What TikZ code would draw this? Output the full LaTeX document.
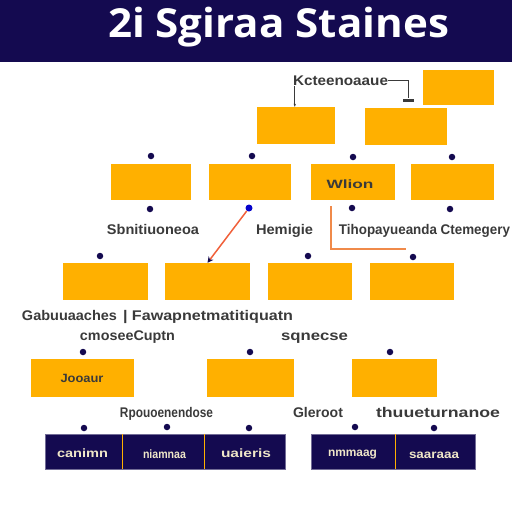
\documentclass[tikz,border=0pt]{standalone}
\usepackage{fontspec}
\setmainfont{Liberation Sans}
\newfontfamily\titlefont{Open Sans}
\usepackage{graphicx}
\usetikzlibrary{calc}
\usetikzlibrary{arrows.meta}
\definecolor{navy}{HTML}{140A50}
\definecolor{amber}{HTML}{FFB000}
\definecolor{labgray}{HTML}{3A3A3A}
\definecolor{cream}{HTML}{EFE6C8}
\definecolor{wirered}{HTML}{F0603A}
\definecolor{wireorange}{HTML}{F08A4A}
\tikzset{
  lbl/.style={inner sep=0pt,anchor=base,text=labgray,font=\bfseries\fontsize{14}{14}\selectfont},
  intxt/.style={inner sep=0pt,text=labgray,font=\bfseries\fontsize{12}{12}\selectfont},
  celltxt/.style={inner sep=0pt,text=cream,font=\bfseries\fontsize{12}{12}\selectfont}
}
\newcommand{\ybox}[5]{\node[draw=none,fill=amber,inner sep=0pt,minimum width=#4pt,minimum height=#5pt] (#1) at ( #2 , #3 ) {};}
\newcommand{\ncell}[5]{\node[draw=navy!60,fill=navy,inner sep=0pt,minimum width=#4pt,minimum height=#5pt] (#1) at ( #2 , #3 ) {};}
\newcommand{\ydot}[3]{\node[circle,fill=navy,inner sep=0pt,minimum size=6.5pt] (#1) at ( #2 , #3 ) {};}
\newcommand{\lbl}[5]{\node[lbl] (#1) at ( #2 , #3 ) {\resizebox{#4pt}{\height}{#5}};}

\begin{document}
\begin{tikzpicture}[x=1pt,y=-1pt]
        \useasboundingbox (0,0) rectangle (512,512);

        % banner
        \node[fill=navy,inner sep=0pt,minimum width=512pt,minimum height=62pt,anchor=north west] (banner) at (0,0) {};
        \node[inner sep=0pt,anchor=base,text=white] (title) at (278.5,37) {\resizebox{341pt}{\height}{\titlefont\bfseries\fontsize{40}{40}\selectfont 2i Sgiraa Staines}};

        % row 0
        \ybox{r0}{458.5}{87.5}{71}{35}
        \lbl{toptxt}{340.5}{85}{95}{Kcteenoaaue}

        % row 1
        \ybox{r1a}{296}{125.5}{78}{37}
        \ybox{r1b}{406}{126.5}{82}{37}
        \node[fill=labgray,inner sep=0pt,minimum width=11pt,minimum height=3pt] (rbar) at (408,100) {};
        \draw[labgray,thick] (toptxt.east) -| (rbar.north);
        \draw[labgray,thick,-{Stealth[length=3pt]}] ($(toptxt.south west)+(2,1)$) -- ($(toptxt.south west |- r1a.north)+(2,0)$);

        % dots above row 2
        \ydot{d1a}{151}{156}
        \ydot{d1b}{252}{156}
        \ydot{d1c}{353}{157}
        \ydot{d1d}{452}{157}

        % row 2
        \ybox{r2a}{151}{182}{80}{36}
        \ybox{r2b}{250}{182}{82}{36}
        \ybox{r2c}{353}{182}{84}{36}
        \ybox{r2d}{452.5}{182}{83}{36}
        \node[intxt] (r2ctxt) at (350,184) {\resizebox{47pt}{\height}{Wlion}};

        % dots below row 2
        \ydot{d2a}{150}{209}
        \node[circle,fill=blue!70!navy,inner sep=0pt,minimum size=7pt] (d2b) at (249,208) {};
        \ydot{d2c}{352}{208}
        \ydot{d2d}{450}{209}

        % labels row 2
        \lbl{l2a}{153}{234}{92}{Sbnitiuoneoa}
        \lbl{l2b}{284.5}{234}{57}{Hemigie}
        \lbl{l2c}{424.5}{234}{171}{Tihopayueanda Ctemegery}

        % row 3
        \ybox{r3a}{105.5}{281.5}{85}{37}
        \ybox{r3b}{207.5}{281.5}{85}{37}
        \ybox{r3c}{310}{281.5}{84}{37}
        \ybox{r3d}{412}{281.5}{84}{37}
        \ydot{d3a}{100}{256}
        \ydot{d3c}{308}{256}
        \ydot{d3d}{413}{257}

        % connectors
        \coordinate (oc) at (406,249);
        \draw[wirered,line width=1.5pt,-{Stealth[navy,length=6pt,width=6pt]}] (d2b) -- (r3b.north);
        \draw[wireorange,line width=1.5pt] ($(r2c.south west)+(20,6)$) |- (oc);

        % labels row 3
        \lbl{l3a}{69.5}{320}{95}{Gabuuaaches}
        \lbl{l3b}{208}{320}{170}{| Fawapnetmatitiquatn}
        \lbl{l3c}{127.5}{340}{95}{cmoseeCuptn}
        \lbl{l3d}{314.5}{340}{67}{sqnecse}

        % row 4
        \ydot{d4a}{83}{352}
        \ydot{d4b}{250}{352}
        \ydot{d4c}{390}{352}
        \ybox{r4a}{82.5}{378}{103}{38}
        \ybox{r4b}{250.5}{378}{87}{38}
        \ybox{r4c}{394.5}{378}{85}{38}
        \node[intxt] (r4atxt) at (82,378) {\resizebox{43pt}{\height}{Jooaur}};

        % labels row 4
        \lbl{l4a}{166.5}{417}{93}{Rpouoenendose}
        \lbl{l4b}{318}{417}{50}{Gleroot}
        \lbl{l4c}{438}{417}{124}{thuueturnanoe}

        % bottom cells
        \ydot{d5a}{84}{428}
        \ydot{d5b}{167}{427}
        \ydot{d5c}{249}{428}
        \ydot{d5d}{355}{427}
        \ydot{d5e}{434}{428}
        \ncell{c1}{83.5}{451.5}{77}{35}
        \ncell{c2}{163}{451.5}{82}{35}
        \ncell{c3}{244.5}{451.5}{81}{35}
        \ncell{c4}{353}{451.5}{84}{35}
        \ncell{c5}{435}{451.5}{80}{35}
        \draw[amber,thick] (c1.north east) -- (c1.south east);
        \draw[amber,thick] (c2.north east) -- (c2.south east);
        \draw[amber,thick] (c4.north east) -- (c4.south east);
        \node[celltxt] (t1) at (82.5,453) {\resizebox{51pt}{\height}{canimn}};
        \node[celltxt] (t2) at (164.5,454) {\resizebox{43pt}{\height}{niamnaa}};
        \node[celltxt] (t3) at (246,453) {\resizebox{50pt}{\height}{uaieris}};
        \node[celltxt] (t4) at (352.5,455) {\resizebox{49pt}{\height}{nmmaag}};
        \node[celltxt] (t5) at (434,455) {\resizebox{50pt}{\height}{saaraaa}};

    \end{tikzpicture}
\end{document}
